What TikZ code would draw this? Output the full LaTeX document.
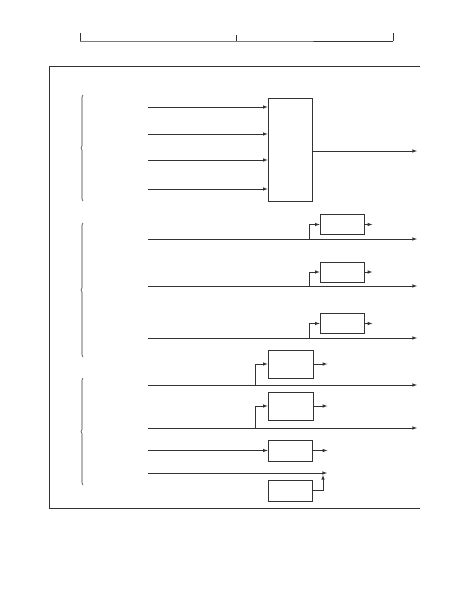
\documentclass[tikz,border=0pt]{standalone}
\usetikzlibrary{decorations.pathreplacing}
\tikzset{
  box/.style={draw, minimum width=44pt, minimum height=20pt, inner sep=0pt},
  sig/.style={->, >=latex},
  grp/.style={decorate, decoration={brace, amplitude=2pt}},
}
\begin{document}
\begin{tikzpicture}[x=1pt,y=-1pt, line width=0.6pt, color=black!80]
        \useasboundingbox (0,0) rectangle (474,594);
        % scale bar
        \draw (80,41) coordinate (s0) -- (236,41) coordinate (s1) -- (393,41) coordinate (s2);
        \draw (s0)++(0,-8) -- (s0) (s1)++(0,-6) -- (s1) (s2)++(0,-8) -- (s2);
        % open frame
        \draw (420,66) -- (49,66) -- (49,508) -- (420,508);
        % groups
        \draw[grp] (83,201) -- (83,95);
        \draw[grp] (83,357) -- (83,223);
        \draw[grp] (83,485) -- (83,378);
        % mixer
        \node[box, minimum height=103pt] (mix) at (290,149.5) {};
        \foreach \y/\n in {107/1,134/2,160/3,189/4}
            \draw[sig] (148,\y) coordinate (in\n) -- (in\n -| mix.west);
        \coordinate (out) at (417,151);
        \draw[sig] (mix.east |- out) -- (out);
        % taps on the through lines
        \foreach \y/\t/\n in {239/224.5/1,286/272/2,338/323.5/3} {
            \node[box] (t\n) at (342,\t) {};
            \draw[sig] (148,\y) coordinate (la\n) -- (417,\y) coordinate (lb\n);
            \draw[sig] (309,\y) |- (t\n.west);
            \draw[sig] (t\n.east) -- ++(8,0);
        }
        % taps of the last group
        \foreach \y/\t/\n in {385/364/4,428/406/5} {
            \node[box, minimum width=45pt, minimum height=28pt] (t\n) at (290.5,\t) {};
            \draw[sig] (148,\y) coordinate (la\n) -- (417,\y) coordinate (lb\n);
            \draw[sig] (255.5,\y) |- (t\n.west);
            \draw[sig] (t\n.east) -- ++(14,0);
        }
        \node[box, minimum height=21pt] (t6) at (290,450.5) {};
        \draw[sig] (148,450.5) coordinate (la6) -- (t6.west);
        \draw[sig] (t6.east) -- ++(15,0);
        \node[box, minimum height=21pt] (t7) at (290,490.5) {};
        \draw[sig] (148,473) coordinate (la7) -- (327,473) coordinate (lb7);
        \draw[sig] (t7.east) -| (323,475);
    \end{tikzpicture}
\end{document}
